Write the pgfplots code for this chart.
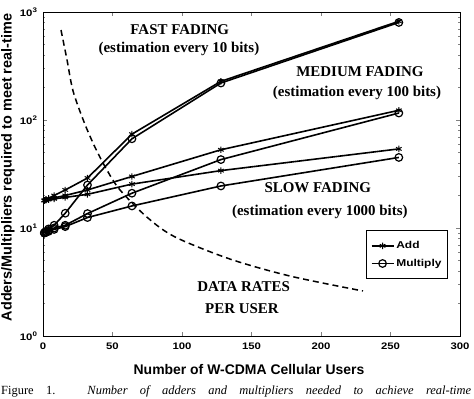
\documentclass[border=0pt]{standalone}
\usepackage{fontspec}
\setmainfont{Liberation Serif}
\setsansfont{Liberation Sans}
\newfontfamily\widesans[FakeStretch=1.2]{Liberation Sans}
\usepackage{pgfplots}
\pgfplotsset{compat=1.18}
\begin{document}
\begin{tikzpicture}
\path[use as bounding box] (-43bp,-63bp) rectangle (431bp,336bp);
\begin{axis}[
  at={(0bp,0bp)}, anchor=south west,
  scale only axis, width=417bp, height=324bp,
  xmin=0, xmax=300, ymode=log, ymin=1, ymax=1000,
  xtick={0,50,...,300},
  ytick={1,10,100,1000},
  yticklabels={10\textsuperscript{0},10\textsuperscript{1},10\textsuperscript{2},10\textsuperscript{3}},
  tick align=inside, major tick length=4bp, minor tick length=2bp,
  /pgf/number format/assume math mode=true,
  tick label style={font=\widesans\bfseries\fontsize{9.5}{11}\selectfont},
  xticklabel style={yshift=-3bp},
  yticklabel style={xshift=-2bp},
  xlabel={Number of W-CDMA Cellular Users},
  xlabel style={at={(axis description cs:0.494,-0.102)}, anchor=center, font=\sffamily\bfseries\fontsize{14}{16}\selectfont},
  ylabel={Adders/Multipliers required to meet real-time},
  ylabel style={at={(axis description cs:-0.084,0.52)}, anchor=center, font=\sffamily\bfseries\fontsize{14.5}{16}\selectfont},
  axis line style={line width=0.8bp},
  every axis plot/.append style={black, line width=1.6bp},
  legend style={at={(0.971,0.327)}, anchor=north east, draw=black, line width=0.8bp,
    font=\widesans\bfseries\fontsize{10}{12}\selectfont, row sep=5bp, inner xsep=4bp, inner ysep=9bp},
  legend cell align=left,
  legend image code/.code={\draw[#1] (0bp,0bp) -- (11bp,0bp) -- (22bp,0bp); \draw[#1, only marks] plot coordinates {(11bp,0bp)};},
]
% fast fading
\addplot[mark=asterisk, mark size=3.2bp, mark options={solid,line width=1bp}] coordinates {(1,18)(2,18.3)(4,18.8)(8,20)(16,22.5)(32,29)(64,74)(128,228)(256,820)};
\addlegendentry{Add}
\addplot[mark=o, mark size=3.8bp, mark options={solid,line width=1.2bp}] coordinates {(1,9)(2,9.3)(4,9.8)(8,10.6)(16,13.7)(32,25)(64,67)(128,220)(256,800)};
\addlegendentry{Multiply}
% medium fading
\addplot[mark=asterisk, mark size=3.2bp, mark options={solid,line width=1bp}, forget plot] coordinates {(1,18)(2,18.2)(4,18.5)(8,19)(16,20)(32,22.5)(64,30)(128,53)(256,123)};
\addplot[mark=o, mark size=3.8bp, mark options={solid,line width=1.2bp}, forget plot] coordinates {(1,9)(2,9.2)(4,9.5)(8,10)(16,10.6)(32,13.6)(64,21)(128,43)(256,116)};
% slow fading
\addplot[mark=asterisk, mark size=3.2bp, mark options={solid,line width=1bp}, forget plot] coordinates {(1,18)(2,18.1)(4,18.3)(8,18.6)(16,19.2)(32,20.5)(64,25.5)(128,34)(256,54)};
\addplot[mark=o, mark size=3.8bp, mark options={solid,line width=1.2bp}, forget plot] coordinates {(1,9)(2,9.1)(4,9.3)(8,9.7)(16,10.3)(32,12.5)(64,16)(128,24.5)(256,45)};
% data rates per user
\addplot[smooth, dash pattern=on 6bp off 4bp, line width=1.5bp, forget plot] coordinates {(12.95,681)(17.3,359)(21.6,186)(29.5,96)(37.4,56)(46,34.4)(55.4,22.5)(74.8,12.6)(95,8.26)(134.5,5.16)(177.7,3.59)(230.2,2.61)};
% annotations
\begin{scope}[every node/.style={font=\bfseries\fontsize{15}{17}\selectfont, inner sep=0pt}]
\node at (rel axis cs:0.328,0.946) {FAST FADING};
\node at (rel axis cs:0.326,0.886) {(estimation every 10 bits)};
\node at (rel axis cs:0.760,0.815) {MEDIUM FADING};
\node at (rel axis cs:0.753,0.750) {(estimation every 100 bits)};
\node at (rel axis cs:0.659,0.457) {SLOW FADING};
\node at (rel axis cs:0.664,0.383) {(estimation every 1000 bits)};
\node at (rel axis cs:0.481,0.151) {DATA RATES};
\node at (rel axis cs:0.477,0.086) {PER USER};
\end{scope}
\end{axis}
\node[anchor=base west, inner sep=0pt, font=\fontsize{12.5}{14}\selectfont] at (-42bp,-58.5bp) {\makebox[470bp][s]{Figure 1. \textit{Number of adders and multipliers needed to achieve real-time}}};
\end{tikzpicture}
\end{document}
